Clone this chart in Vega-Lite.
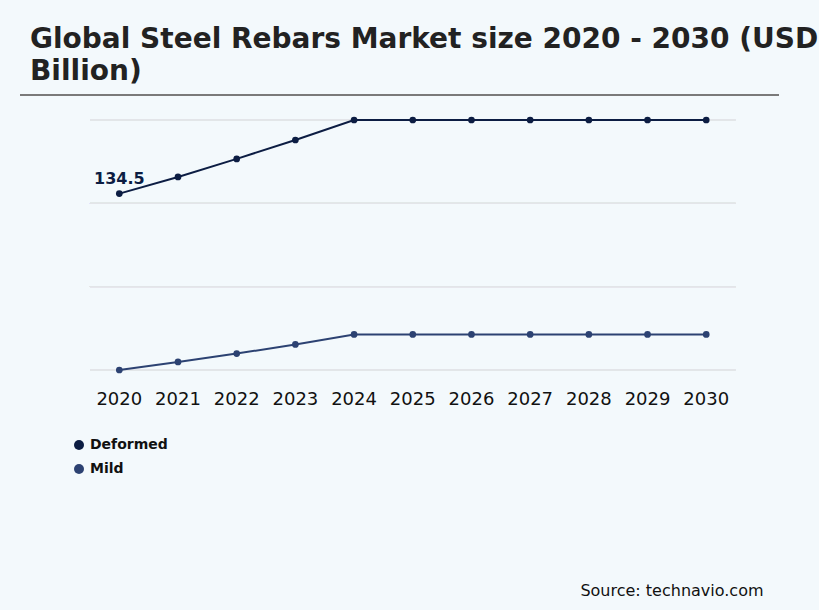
{
  "$schema": "https://vega.github.io/schema/vega-lite/v6.json",
  "width": 759,
  "height": 250,
  "autosize": "none",
  "padding": {"left": 20, "top": 120, "right": 40, "bottom": 240},
  "background": "#f3f9fc",
  "title": {
    "text": ["Global Steel Rebars Market size 2020 - 2030 (USD", "Billion)"],
    "anchor": "start",
    "frame": "group",
    "dx": 10,
    "font": "DejaVu Sans",
    "fontSize": 28,
    "fontWeight": "bold",
    "color": "#222222",
    "lineHeight": 32,
    "offset": 8
  },
  "config": {
    "view": {"stroke": null},
    "font": "DejaVu Sans",
    "axisX": {
      "titleFont": "DejaVu Sans",
      "titleFontSize": 16,
      "titleFontWeight": "normal",
      "titleColor": "#111111",
      "titleAlign": "right",
      "titleBaseline": "alphabetic",
      "labelAngle": 0,
      "labelFont": "DejaVu Sans",
      "labelFontSize": 18,
      "labelColor": "#111111",
      "labelPadding": 20,
      "domain": false,
      "ticks": false,
      "grid": false
    }
  },
  "datasets": {
    "market": [
      {"year": "2020", "segment": "Deformed", "value": 134.5},
      {"year": "2021", "segment": "Deformed", "value": 140.5},
      {"year": "2022", "segment": "Deformed", "value": 147.0},
      {"year": "2023", "segment": "Deformed", "value": 153.8},
      {"year": "2024", "segment": "Deformed", "value": 161.0},
      {"year": "2025", "segment": "Deformed", "value": 161.0},
      {"year": "2026", "segment": "Deformed", "value": 161.0},
      {"year": "2027", "segment": "Deformed", "value": 161.0},
      {"year": "2028", "segment": "Deformed", "value": 161.0},
      {"year": "2029", "segment": "Deformed", "value": 161.0},
      {"year": "2030", "segment": "Deformed", "value": 161.0},
      {"year": "2020", "segment": "Mild", "value": 71.0},
      {"year": "2021", "segment": "Mild", "value": 73.9},
      {"year": "2022", "segment": "Mild", "value": 76.9},
      {"year": "2023", "segment": "Mild", "value": 80.2},
      {"year": "2024", "segment": "Mild", "value": 83.8},
      {"year": "2025", "segment": "Mild", "value": 83.8},
      {"year": "2026", "segment": "Mild", "value": 83.8},
      {"year": "2027", "segment": "Mild", "value": 83.8},
      {"year": "2028", "segment": "Mild", "value": 83.8},
      {"year": "2029", "segment": "Mild", "value": 83.8},
      {"year": "2030", "segment": "Mild", "value": 83.8}
    ]
  },
  "data": {"name": "market"},
  "layer": [
    {
      "mark": {"type": "rule", "color": "#e2e5e8", "strokeWidth": 1, "x2Offset": 29.35},
      "encoding": {"y": {"datum": 71, "type": "quantitative", "axis": null}, "x": {"datum": "2020", "type": "ordinal", "bandPosition": 0, "axis": {"title": "Source: technavio.com", "titleAnchor": null, "titleX": 743, "titleY": 225}}, "x2": {"datum": "2030"}}
    },
    {
      "mark": {"type": "rule", "color": "#e2e5e8", "strokeWidth": 1, "x2Offset": 29.35},
      "encoding": {"y": {"datum": 101, "type": "quantitative", "axis": null}, "x": {"datum": "2020", "type": "ordinal", "bandPosition": 0, "axis": {"title": "Source: technavio.com", "titleAnchor": null, "titleX": 743, "titleY": 225}}, "x2": {"datum": "2030"}}
    },
    {
      "mark": {"type": "rule", "color": "#e2e5e8", "strokeWidth": 1, "x2Offset": 29.35},
      "encoding": {"y": {"datum": 131, "type": "quantitative", "axis": null}, "x": {"datum": "2020", "type": "ordinal", "bandPosition": 0, "axis": {"title": "Source: technavio.com", "titleAnchor": null, "titleX": 743, "titleY": 225}}, "x2": {"datum": "2030"}}
    },
    {
      "mark": {"type": "rule", "color": "#e2e5e8", "strokeWidth": 1, "x2Offset": 29.35},
      "encoding": {"y": {"datum": 161, "type": "quantitative", "axis": null}, "x": {"datum": "2020", "type": "ordinal", "bandPosition": 0, "axis": {"title": "Source: technavio.com", "titleAnchor": null, "titleX": 743, "titleY": 225}}, "x2": {"datum": "2030"}}
    },
    {
      "mark": {"type": "line", "strokeWidth": 2, "point": {"filled": true, "size": 45}},
      "encoding": {
        "x": {
          "field": "year",
          "type": "ordinal",
          "scale": {"type": "band", "paddingInner": 0, "paddingOuter": 0.966, "align": 0.617},
          "axis": {"title": "Source: technavio.com", "titleAnchor": null, "titleX": 743, "titleY": 225}
        },
        "y": {"field": "value", "type": "quantitative", "scale": {"domain": [71, 161], "zero": false, "nice": false}, "axis": null},
        "color": {
          "field": "segment",
          "type": "nominal",
          "scale": {"domain": ["Deformed", "Mild"], "range": ["#0c1d43", "#2c4272"]},
          "legend": {
            "title": null,
            "orient": "none",
            "legendX": 52,
            "legendY": 318,
            "direction": "vertical",
            "symbolType": "circle",
            "symbolSize": 100,
            "symbolStrokeWidth": 0,
            "labelFont": "DejaVu Sans",
            "labelFontSize": 14,
            "labelFontWeight": "bold",
            "labelColor": "#111111",
            "labelOffset": 4,
            "rowPadding": 10,
            "padding": 0
          }
        }
      }
    },
    {
      "transform": [{"filter": "datum.segment === 'Deformed' && datum.year === '2020'"}],
      "mark": {"type": "text", "dy": -15, "font": "DejaVu Sans", "fontSize": 16, "fontWeight": "bold", "color": "#0c1d43"},
      "encoding": {
        "x": {"field": "year", "type": "ordinal"},
        "y": {"field": "value", "type": "quantitative"},
        "text": {"field": "value", "type": "quantitative", "format": ".1f"}
      }
    },
    {
      "mark": {"type": "rule", "color": "#7a7a7a", "strokeWidth": 2},
      "encoding": {"y": {"datum": 170, "type": "quantitative"}}
    }
  ]
}
